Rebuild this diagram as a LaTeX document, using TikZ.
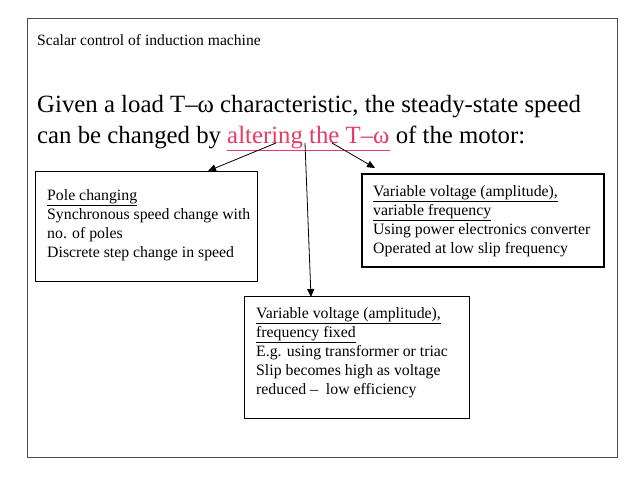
\documentclass[tikz,border=0pt]{standalone}
\usepackage{fontspec}
\setmainfont{Liberation Serif}
\usetikzlibrary{arrows.meta}
\definecolor{pinkred}{RGB}{232,58,100}
\tikzset{x=1pt,y=-1pt,
 txt/.style={anchor=north west,inner sep=0pt,align=left,font=\fontsize{15.8}{19.2}\selectfont},
 box/.style={draw,line width=0.8pt},
 arr/.style={-{Triangle[length=8pt,width=7pt]},line width=0.8pt}}
\begin{document}
\begin{tikzpicture}
\useasboundingbox (0,0) rectangle (638,478);
\draw[line width=0.6pt,black!70] (27,18) rectangle (617,457);
\node[anchor=west,inner sep=0pt,font=\fontsize{15.6}{17}\selectfont] (title) at (37,40) {Scalar control of induction machine};
\node[anchor=north west,inner sep=0pt,align=left,font=\fontsize{24.8}{31}\selectfont] (head) at (37,95)
 {Given a load T–ω characteristic, the steady-state speed\\can be changed by {\color{pinkred}\underline{altering the T–ω}} of the motor:};
\draw[box] (35,171) rectangle (257,281);
\node[txt] (b1) at (47,189) {\underline{Pole changing}\\Synchronous speed change with\\no. of poles\\Discrete step change in speed};
\draw[box,line width=1.8pt] (362,174) rectangle (604,267);
\node[txt] (b2) at (373,185) {\underline{Variable voltage (amplitude),}\\\underline{variable frequency}\\Using power electronics converter\\Operated at low slip frequency};
\draw[box,line width=0.6pt] (244,296) rectangle (469,418);
\node[txt] (b3) at (256,307) {\underline{Variable voltage (amplitude),}\\\underline{frequency fixed}\\E.g. using transformer or triac\\Slip becomes high as voltage\\reduced –\ \ low efficiency};
\coordinate (s1) at (276,143); \coordinate (e1) at (208,171);
\coordinate (s2) at (305,143); \coordinate (e2) at (311,297);
\coordinate (s3) at (332,143); \coordinate (e3) at (375,168);
\draw[arr] (s1) -- (e1);
\draw[arr] (s2) -- (e2);
\draw[arr] (s3) -- (e3);
\end{tikzpicture}
\end{document}
